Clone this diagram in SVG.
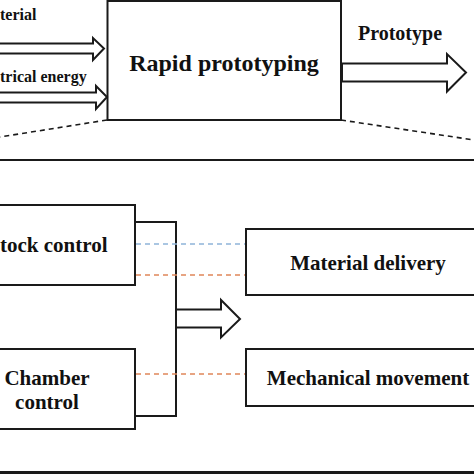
<svg xmlns="http://www.w3.org/2000/svg" width="474" height="474" viewBox="0 0 474 474" font-family="'Liberation Serif', 'DejaVu Serif', serif" font-weight="bold">
<style>
.box{fill:#fff;stroke:#1a1a1a;stroke-width:2}
.arrow{fill:#fff;stroke:#1a1a1a;stroke-width:2;stroke-linejoin:miter}
.line{fill:none;stroke:#1a1a1a;stroke-width:2}
.dash{fill:none;stroke:#1a1a1a;stroke-width:1.6;stroke-dasharray:5,4}
.blue{fill:none;stroke:#8fb4d9;stroke-width:1.5;stroke-dasharray:5,4}
.orange{fill:none;stroke:#e0875a;stroke-width:1.5;stroke-dasharray:5,4}
.t{font-family:'Liberation Serif','DejaVu Serif',serif;font-weight:bold;fill:#111}
</style>
<rect width="474" height="474" fill="#fff"/>
<g id="rapid-prototyping">
<rect class="box" x="107.5" y="1" width="233.5" height="119"/>
<text class="t" x="224" y="71" font-size="24" text-anchor="middle">Rapid prototyping</text>
</g>
<g id="input-material">
<text class="t" x="0" y="20" font-size="16">terial</text>
</g>
<g id="input-energy">
<text class="t" x="0" y="82" font-size="16">trical energy</text>
</g>
<g id="output-prototype">
<text class="t" x="400" y="40" font-size="20" text-anchor="middle">Prototype</text>
</g>
<g id="stock-control">
<rect class="box" x="-5" y="205" width="140" height="80"/>
<text class="t" x="0" y="252" font-size="21">tock control</text>
</g>
<g id="chamber-control">
<rect class="box" x="-5" y="349" width="140" height="80"/>
<text class="t" x="47" y="385" font-size="21" text-anchor="middle">Chamber</text>
<text class="t" x="47" y="409" font-size="21" text-anchor="middle">control</text>
</g>
<g id="material-delivery">
<rect class="box" x="246" y="229" width="240" height="66"/>
<text class="t" x="368" y="270" font-size="21" text-anchor="middle">Material delivery</text>
</g>
<g id="mechanical-movement">
<rect class="box" x="246" y="349" width="240" height="57"/>
<text class="t" x="368" y="385" font-size="21" text-anchor="middle">Mechanical movement</text>
</g>
<g id="connectors">
<path class="arrow" d="M-5,43.5 H93 V38 L104,48.5 L93,60 V53.5 H-5 Z"/>
<path class="arrow" d="M-5,92.5 H96 V86 L107,97 L96,109 V102.5 H-5 Z"/>
<path class="arrow" d="M342,63.5 H447 V54 L466,72.5 L447,91.5 V81.5 H342 Z"/>
<line class="dash" x1="107" y1="120" x2="0" y2="137"/>
<line class="dash" x1="341" y1="120" x2="474" y2="140"/>
<line x1="0" y1="160" x2="474" y2="160" stroke="#1a1a1a" stroke-width="1.8"/>
<line x1="0" y1="472.5" x2="474" y2="472.5" stroke="#1a1a1a" stroke-width="3"/>
<path class="line" d="M135,222 H176 V416 H135"/>
<path class="arrow" d="M176,309.5 H221 V300 L240,319 L221,337.5 V327.5 H176 Z"/>
<line class="blue" x1="136" y1="244" x2="245" y2="244"/>
<line class="orange" x1="136" y1="275" x2="245" y2="275"/>
<line class="orange" x1="136" y1="374" x2="245" y2="374"/>
</g>
</svg>
